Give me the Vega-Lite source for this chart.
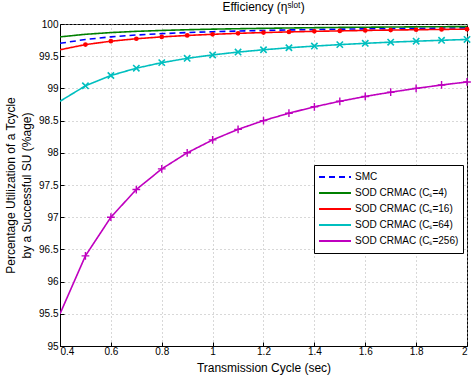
{
  "$schema": "https://vega.github.io/schema/vega-lite/v6.json",
  "width": 407,
  "height": 322,
  "autosize": {"type": "none"},
  "padding": {"left": 60, "top": 24, "right": 7, "bottom": 33},
  "background": "white",
  "title": {"text": "Efficiency (ηˢˡᵒᵗ)", "fontSize": 12, "font": "Liberation Sans", "fontWeight": "normal", "offset": 5, "color": "black"},
  "config": {
    "font": "Liberation Sans",
    "view": {"stroke": "black", "strokeWidth": 1},
    "axis": {"domainColor": "black", "tickColor": "black", "labelColor": "black", "titleColor": "black", "labelFontSize": 10, "titleFontSize": 12, "titleFontWeight": "normal", "gridColor": "#b0b0b0", "gridDash": [1, 3], "gridOpacity": 1, "tickSize": -4},
    "legend": {"title": null, "orient": "none", "legendX": 254, "legendY": 141, "symbolType": "stroke", "symbolSize": 1024, "symbolStrokeWidth": 2, "labelFontSize": 10, "labelColor": "black", "rowPadding": 0, "clipHeight": 16, "padding": 4, "fillColor": "white", "strokeColor": "black", "labelOffset": 3, "labelLimit": 200}
  },
  "data": {"values": [
    {"s": "SMC", "x": 0.4, "y": 99.70}, {"s": "SMC", "x": 0.5, "y": 99.76}, {"s": "SMC", "x": 0.6, "y": 99.80}, {"s": "SMC", "x": 0.7, "y": 99.829}, {"s": "SMC", "x": 0.8, "y": 99.85}, {"s": "SMC", "x": 0.9, "y": 99.867}, {"s": "SMC", "x": 1.0, "y": 99.88}, {"s": "SMC", "x": 1.1, "y": 99.891}, {"s": "SMC", "x": 1.2, "y": 99.90}, {"s": "SMC", "x": 1.3, "y": 99.908}, {"s": "SMC", "x": 1.4, "y": 99.914}, {"s": "SMC", "x": 1.5, "y": 99.92}, {"s": "SMC", "x": 1.6, "y": 99.925}, {"s": "SMC", "x": 1.7, "y": 99.929}, {"s": "SMC", "x": 1.8, "y": 99.933}, {"s": "SMC", "x": 1.9, "y": 99.937}, {"s": "SMC", "x": 2.0, "y": 99.94},
    {"s": "SOD CRMAC (Cₛ=4)", "x": 0.4, "y": 99.80}, {"s": "SOD CRMAC (Cₛ=4)", "x": 0.5, "y": 99.84}, {"s": "SOD CRMAC (Cₛ=4)", "x": 0.6, "y": 99.867}, {"s": "SOD CRMAC (Cₛ=4)", "x": 0.7, "y": 99.886}, {"s": "SOD CRMAC (Cₛ=4)", "x": 0.8, "y": 99.90}, {"s": "SOD CRMAC (Cₛ=4)", "x": 0.9, "y": 99.911}, {"s": "SOD CRMAC (Cₛ=4)", "x": 1.0, "y": 99.92}, {"s": "SOD CRMAC (Cₛ=4)", "x": 1.1, "y": 99.927}, {"s": "SOD CRMAC (Cₛ=4)", "x": 1.2, "y": 99.933}, {"s": "SOD CRMAC (Cₛ=4)", "x": 1.3, "y": 99.938}, {"s": "SOD CRMAC (Cₛ=4)", "x": 1.4, "y": 99.943}, {"s": "SOD CRMAC (Cₛ=4)", "x": 1.5, "y": 99.947}, {"s": "SOD CRMAC (Cₛ=4)", "x": 1.6, "y": 99.95}, {"s": "SOD CRMAC (Cₛ=4)", "x": 1.7, "y": 99.953}, {"s": "SOD CRMAC (Cₛ=4)", "x": 1.8, "y": 99.956}, {"s": "SOD CRMAC (Cₛ=4)", "x": 1.9, "y": 99.958}, {"s": "SOD CRMAC (Cₛ=4)", "x": 2.0, "y": 99.96},
    {"s": "SOD CRMAC (Cₛ=16)", "x": 0.4, "y": 99.60}, {"s": "SOD CRMAC (Cₛ=16)", "x": 0.5, "y": 99.68}, {"s": "SOD CRMAC (Cₛ=16)", "x": 0.6, "y": 99.733}, {"s": "SOD CRMAC (Cₛ=16)", "x": 0.7, "y": 99.771}, {"s": "SOD CRMAC (Cₛ=16)", "x": 0.8, "y": 99.80}, {"s": "SOD CRMAC (Cₛ=16)", "x": 0.9, "y": 99.822}, {"s": "SOD CRMAC (Cₛ=16)", "x": 1.0, "y": 99.84}, {"s": "SOD CRMAC (Cₛ=16)", "x": 1.1, "y": 99.855}, {"s": "SOD CRMAC (Cₛ=16)", "x": 1.2, "y": 99.867}, {"s": "SOD CRMAC (Cₛ=16)", "x": 1.3, "y": 99.877}, {"s": "SOD CRMAC (Cₛ=16)", "x": 1.4, "y": 99.886}, {"s": "SOD CRMAC (Cₛ=16)", "x": 1.5, "y": 99.893}, {"s": "SOD CRMAC (Cₛ=16)", "x": 1.6, "y": 99.90}, {"s": "SOD CRMAC (Cₛ=16)", "x": 1.7, "y": 99.906}, {"s": "SOD CRMAC (Cₛ=16)", "x": 1.8, "y": 99.911}, {"s": "SOD CRMAC (Cₛ=16)", "x": 1.9, "y": 99.916}, {"s": "SOD CRMAC (Cₛ=16)", "x": 2.0, "y": 99.92},
    {"s": "SOD CRMAC (Cₛ=64)", "x": 0.4, "y": 98.80}, {"s": "SOD CRMAC (Cₛ=64)", "x": 0.5, "y": 99.04}, {"s": "SOD CRMAC (Cₛ=64)", "x": 0.6, "y": 99.20}, {"s": "SOD CRMAC (Cₛ=64)", "x": 0.7, "y": 99.314}, {"s": "SOD CRMAC (Cₛ=64)", "x": 0.8, "y": 99.40}, {"s": "SOD CRMAC (Cₛ=64)", "x": 0.9, "y": 99.467}, {"s": "SOD CRMAC (Cₛ=64)", "x": 1.0, "y": 99.52}, {"s": "SOD CRMAC (Cₛ=64)", "x": 1.1, "y": 99.564}, {"s": "SOD CRMAC (Cₛ=64)", "x": 1.2, "y": 99.60}, {"s": "SOD CRMAC (Cₛ=64)", "x": 1.3, "y": 99.631}, {"s": "SOD CRMAC (Cₛ=64)", "x": 1.4, "y": 99.657}, {"s": "SOD CRMAC (Cₛ=64)", "x": 1.5, "y": 99.68}, {"s": "SOD CRMAC (Cₛ=64)", "x": 1.6, "y": 99.70}, {"s": "SOD CRMAC (Cₛ=64)", "x": 1.7, "y": 99.718}, {"s": "SOD CRMAC (Cₛ=64)", "x": 1.8, "y": 99.733}, {"s": "SOD CRMAC (Cₛ=64)", "x": 1.9, "y": 99.747}, {"s": "SOD CRMAC (Cₛ=64)", "x": 2.0, "y": 99.76},
    {"s": "SOD CRMAC (Cₛ=256)", "x": 0.4, "y": 95.50}, {"s": "SOD CRMAC (Cₛ=256)", "x": 0.5, "y": 96.40}, {"s": "SOD CRMAC (Cₛ=256)", "x": 0.6, "y": 97.00}, {"s": "SOD CRMAC (Cₛ=256)", "x": 0.7, "y": 97.43}, {"s": "SOD CRMAC (Cₛ=256)", "x": 0.8, "y": 97.75}, {"s": "SOD CRMAC (Cₛ=256)", "x": 0.9, "y": 98.00}, {"s": "SOD CRMAC (Cₛ=256)", "x": 1.0, "y": 98.20}, {"s": "SOD CRMAC (Cₛ=256)", "x": 1.1, "y": 98.364}, {"s": "SOD CRMAC (Cₛ=256)", "x": 1.2, "y": 98.50}, {"s": "SOD CRMAC (Cₛ=256)", "x": 1.3, "y": 98.615}, {"s": "SOD CRMAC (Cₛ=256)", "x": 1.4, "y": 98.714}, {"s": "SOD CRMAC (Cₛ=256)", "x": 1.5, "y": 98.80}, {"s": "SOD CRMAC (Cₛ=256)", "x": 1.6, "y": 98.875}, {"s": "SOD CRMAC (Cₛ=256)", "x": 1.7, "y": 98.941}, {"s": "SOD CRMAC (Cₛ=256)", "x": 1.8, "y": 99.00}, {"s": "SOD CRMAC (Cₛ=256)", "x": 1.9, "y": 99.053}, {"s": "SOD CRMAC (Cₛ=256)", "x": 2.0, "y": 99.10}
  ]},
  "encoding": {
    "x": {"field": "x", "type": "quantitative", "scale": {"domain": [0.4, 2], "nice": false}, "axis": {"values": [0.4, 0.6, 0.8, 1.0, 1.2, 1.4, 1.6, 1.8, 2.0], "format": "~f", "title": "Transmission Cycle (sec)", "labelPadding": 4, "titlePadding": 6}},
    "y": {"field": "y", "type": "quantitative", "scale": {"domain": [95, 100], "nice": false, "zero": false}, "axis": {"values": [95, 95.5, 96, 96.5, 97, 97.5, 98, 98.5, 99, 99.5, 100], "format": "~f", "title": ["Percentage Utilization of a Tcycle", "by a Successful SU (%age)"], "labelPadding": 6, "titlePadding": 5, "titleLineHeight": 16}}
  },
  "layer": [
    {
      "mark": {"type": "line", "strokeWidth": 1.6, "clip": true},
      "encoding": {
        "color": {"field": "s", "type": "nominal", "sort": null,
          "scale": {"domain": ["SMC", "SOD CRMAC (Cₛ=4)", "SOD CRMAC (Cₛ=16)", "SOD CRMAC (Cₛ=64)", "SOD CRMAC (Cₛ=256)"], "range": ["#0000ff", "#008000", "#ff0000", "#00bfbf", "#bf00bf"]}},
        "strokeDash": {"field": "s", "type": "nominal", "sort": null,
          "scale": {"domain": ["SMC", "SOD CRMAC (Cₛ=4)", "SOD CRMAC (Cₛ=16)", "SOD CRMAC (Cₛ=64)", "SOD CRMAC (Cₛ=256)"], "range": [[6, 4], [1, 0], [1, 0], [1, 0], [1, 0]]}}
      }
    },
    {
      "transform": [{"filter": "datum.x > 0.45 && datum.s == 'SOD CRMAC (Cₛ=16)'"}],
      "mark": {"type": "point", "shape": "circle", "filled": true, "size": 22, "color": "#ff0000", "opacity": 1}
    },
    {
      "transform": [{"filter": "datum.x > 0.45 && datum.s == 'SOD CRMAC (Cₛ=64)'"}],
      "mark": {"type": "point", "shape": "M-1,-1L1,1M-1,1L1,-1", "filled": false, "size": 40, "color": "#00bfbf", "strokeWidth": 1.6, "opacity": 1}
    },
    {
      "transform": [{"filter": "datum.x > 0.45 && datum.s == 'SOD CRMAC (Cₛ=256)'"}],
      "mark": {"type": "point", "shape": "M-1,0L1,0M0,-1L0,1", "filled": false, "size": 60, "color": "#bf00bf", "strokeWidth": 1.4, "opacity": 1}
    }
  ]
}
